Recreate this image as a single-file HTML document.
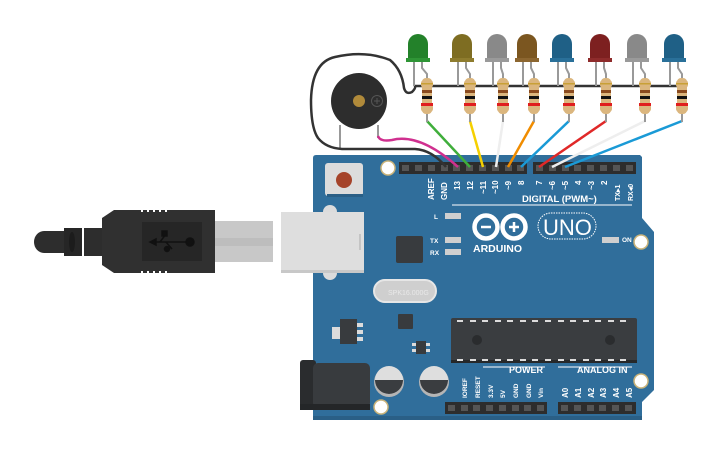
<!DOCTYPE html>
<html><head><meta charset="utf-8"><style>
html,body{margin:0;padding:0;background:#fff;}
svg{display:block;font-family:"Liberation Sans",sans-serif;}
</style></head><body>
<svg width="725" height="453" viewBox="0 0 725 453" xmlns="http://www.w3.org/2000/svg">
<!-- USB cable -->
<ellipse cx="44" cy="242" rx="10" ry="11" fill="#2d2d2d"/>
<rect x="44" y="231" width="36" height="22" fill="#2d2d2d"/>
<rect x="64" y="228" width="18" height="28" fill="#262626"/>
<ellipse cx="72" cy="242" rx="3" ry="10" fill="#1c1c1c"/>
<ellipse cx="92" cy="242" rx="3" ry="10" fill="#1c1c1c"/>
<rect x="84" y="228" width="20" height="28" fill="#2d2d2d"/>
<path d="M102 218 L114 210 L215 210 L215 273 L114 273 L102 265 Z" fill="#303030"/>
<g fill="#fff"><rect x="141" y="209" width="2" height="3"/><rect x="147" y="209" width="2" height="3"/><rect x="153" y="209" width="2" height="3"/><rect x="159" y="209" width="2" height="3"/><rect x="165" y="209" width="2" height="3"/>
<rect x="141" y="271" width="2" height="3"/><rect x="147" y="271" width="2" height="3"/><rect x="153" y="271" width="2" height="3"/><rect x="159" y="271" width="2" height="3"/><rect x="165" y="271" width="2" height="3"/></g>
<rect x="142" y="222" width="60" height="39" fill="#262626"/>
<g stroke="#111" stroke-width="1.5" fill="#111">
<line x1="152" y1="242" x2="190" y2="242"/><polygon points="150,242 156,239 156,245"/>
<line x1="160" y1="242" x2="166" y2="234"/><rect x="162" y="231" width="5" height="5"/>
<line x1="166" y1="242" x2="172" y2="249"/><circle cx="167" cy="249" r="2.5"/>
<circle cx="190" cy="242" r="4"/></g>
<rect x="215" y="221" width="58" height="41" fill="#c8c8c8"/>
<rect x="215" y="238" width="58" height="8" fill="#bdbdbd"/>
<!-- Board -->
<path d="M316 155 L640 155 L642 157 L642 218 L654 232 L654 390 L642 402 L642 419 L316 419 Q313 419 313 416 L313 158 Q313 155 316 155 Z" fill="#306e9b"/>
<rect x="313" y="416" width="329" height="4" fill="#2a5f86"/>
<!-- USB port -->
<circle cx="330" cy="212" r="7" fill="#dcdcdc"/><circle cx="330" cy="273" r="7" fill="#dcdcdc"/>
<rect x="281" y="212" width="83" height="61" fill="#dedede"/>
<rect x="281" y="270" width="83" height="3" fill="#c8c8c8"/>
<line x1="360" y1="234" x2="360" y2="250" stroke="#aaa"/>
<!-- reset -->
<rect x="325" y="163" width="38" height="33" rx="3" fill="#dcdcdc"/>
<rect x="327" y="194" width="36" height="3" fill="#2a5f86"/>
<circle cx="344" cy="180" r="8" fill="#a5432a"/>
<!-- holes -->
<g fill="#fff" stroke="#c9b37a" stroke-width="1.5">
<circle cx="388" cy="168" r="7"/><circle cx="641" cy="242" r="7"/><circle cx="641" cy="381" r="7"/><circle cx="381" cy="407" r="7"/></g>
<!-- top headers -->
<rect x="399" y="162" width="128" height="12" fill="#2d2d2d"/>
<rect x="533" y="162" width="103" height="12" fill="#2d2d2d"/>
<g fill="#555">
<rect x="402" y="165" width="7" height="6"/><rect x="415" y="165" width="7" height="6"/><rect x="428" y="165" width="7" height="6"/><rect x="441" y="165" width="7" height="6"/><rect x="453" y="165" width="7" height="6"/><rect x="466" y="165" width="7" height="6"/><rect x="479" y="165" width="7" height="6"/><rect x="492" y="165" width="7" height="6"/><rect x="505" y="165" width="7" height="6"/><rect x="517" y="165" width="7" height="6"/>
<rect x="536" y="165" width="7" height="6"/><rect x="549" y="165" width="7" height="6"/><rect x="562" y="165" width="7" height="6"/><rect x="574" y="165" width="7" height="6"/><rect x="587" y="165" width="7" height="6"/><rect x="600" y="165" width="7" height="6"/><rect x="613" y="165" width="7" height="6"/><rect x="626" y="165" width="7" height="6"/></g>
<g fill="#fff" font-size="8" font-weight="bold">
<text transform="translate(434,200) rotate(-90)">AREF</text>
<text transform="translate(447,200) rotate(-90)">GND</text>
<text transform="translate(460,190) rotate(-90)">13</text>
<text transform="translate(473,190) rotate(-90)">12</text>
<text transform="translate(486,194) rotate(-90)">~11</text>
<text transform="translate(498,194) rotate(-90)">~10</text>
<text transform="translate(511,190) rotate(-90)">~9</text>
<text transform="translate(524,185) rotate(-90)">8</text>
<text transform="translate(542,185) rotate(-90)">7</text>
<text transform="translate(555,190) rotate(-90)">~6</text>
<text transform="translate(568,190) rotate(-90)">~5</text>
<text transform="translate(581,185) rotate(-90)">4</text>
<text transform="translate(594,190) rotate(-90)">~3</text>
<text transform="translate(607,185) rotate(-90)">2</text>
<text transform="translate(620,201) rotate(-90)" font-size="7">TX▸1</text>
<text transform="translate(633,201) rotate(-90)" font-size="7">RX◂0</text>
<text x="522" y="202" font-size="9.5">DIGITAL (PWM~)</text>
<text x="434" y="219" font-size="6.5">L</text>
<text x="430" y="243" font-size="6.5">TX</text>
<text x="430" y="255" font-size="6.5">RX</text>
<text x="622" y="242" font-size="6.5">ON</text>
<text x="473" y="252" font-size="10.5">ARDUINO</text>
<text x="509" y="373" font-size="9">POWER</text>
<text x="577" y="373" font-size="9">ANALOG IN</text>
</g>
<line x1="452" y1="205" x2="632" y2="205" stroke="#fff" stroke-width="1"/>
<g fill="#cfcfcf"><rect x="445" y="213" width="16" height="6"/><rect x="445" y="237" width="16" height="6"/><rect x="445" y="249" width="16" height="6"/><rect x="602" y="237" width="17" height="6"/></g>
<!-- logo -->
<g fill="none" stroke="#fff" stroke-width="4.5"><circle cx="486" cy="227" r="11.5"/><circle cx="514" cy="227" r="11.5"/></g>
<g stroke="#fff" stroke-width="2.5"><line x1="481" y1="227" x2="491" y2="227"/><line x1="509" y1="227" x2="519" y2="227"/><line x1="514" y1="222" x2="514" y2="232"/></g>
<rect x="538" y="213" width="58" height="26" rx="13" fill="none" stroke="#fff" stroke-width="1" stroke-dasharray="1.5 1"/>
<text x="543" y="235" font-size="22" fill="#fff">UNO</text>
<!-- components -->
<rect x="396" y="236" width="27" height="27" rx="2" fill="#383b3e"/>
<rect x="374" y="280" width="62" height="22" rx="11" fill="#cfcfcf" stroke="#e6e6e6" stroke-width="2"/>
<text x="388" y="295" font-size="7" fill="#e8e8e8">SPK16.000G</text>
<rect x="398" y="314" width="15" height="15" rx="1" fill="#383b3e"/>
<rect x="332" y="327" width="10" height="12" fill="#dcdcdc"/>
<rect x="340" y="319" width="17" height="25" fill="#383b3e"/>
<g fill="#dcdcdc"><rect x="357" y="323" width="6" height="4"/><rect x="357" y="330" width="6" height="4"/><rect x="357" y="337" width="6" height="4"/></g>
<rect x="416" y="341" width="10" height="13" fill="#383b3e"/>
<g fill="#dcdcdc"><rect x="412" y="343" width="4" height="3"/><rect x="412" y="349" width="4" height="3"/><rect x="426" y="343" width="4" height="3"/><rect x="426" y="349" width="4" height="3"/></g>
<rect x="451" y="318" width="186" height="45" rx="2" fill="#3a3d40"/>
<rect x="451" y="360" width="186" height="3" fill="#262829"/>
<g fill="#dcdcdc">
<rect x="457" y="320" width="6" height="2"/><rect x="470" y="320" width="6" height="2"/><rect x="482" y="320" width="6" height="2"/><rect x="495" y="320" width="6" height="2"/><rect x="507" y="320" width="6" height="2"/><rect x="520" y="320" width="6" height="2"/><rect x="532" y="320" width="6" height="2"/><rect x="545" y="320" width="6" height="2"/><rect x="558" y="320" width="6" height="2"/><rect x="570" y="320" width="6" height="2"/><rect x="583" y="320" width="6" height="2"/><rect x="595" y="320" width="6" height="2"/><rect x="608" y="320" width="6" height="2"/><rect x="620" y="320" width="6" height="2"/>
<rect x="457" y="359" width="6" height="2"/><rect x="470" y="359" width="6" height="2"/><rect x="482" y="359" width="6" height="2"/><rect x="495" y="359" width="6" height="2"/><rect x="507" y="359" width="6" height="2"/><rect x="520" y="359" width="6" height="2"/><rect x="532" y="359" width="6" height="2"/><rect x="545" y="359" width="6" height="2"/><rect x="558" y="359" width="6" height="2"/><rect x="570" y="359" width="6" height="2"/><rect x="583" y="359" width="6" height="2"/><rect x="595" y="359" width="6" height="2"/><rect x="608" y="359" width="6" height="2"/><rect x="620" y="359" width="6" height="2"/></g>
<circle cx="477" cy="340" r="5" fill="#2a2c2e"/><circle cx="610" cy="340" r="5" fill="#2a2c2e"/>
<!-- power jack -->
<rect x="300" y="360" width="16" height="48" rx="3" fill="#2a2c2e"/>
<rect x="313" y="363" width="57" height="45" rx="5" fill="#383b3e"/>
<rect x="300" y="404" width="70" height="6" fill="#242628"/>
<!-- capacitors -->
<g><circle cx="389" cy="382" r="15" fill="#b5b5b5"/><circle cx="389" cy="380" r="14" fill="#dedede"/><path d="M375 380 H403 A14 14 0 0 1 375 380 Z" fill="#3a3d40"/>
<circle cx="434" cy="382" r="15" fill="#b5b5b5"/><circle cx="434" cy="380" r="14" fill="#dedede"/><path d="M420 380 H448 A14 14 0 0 1 420 380 Z" fill="#3a3d40"/></g>
<g stroke="#fff" stroke-width="1"><line x1="483" y1="367" x2="545" y2="367"/><line x1="558" y1="367" x2="632" y2="367"/></g>
<!-- bottom headers -->
<rect x="445" y="402" width="102" height="12" fill="#2d2d2d"/>
<rect x="558" y="402" width="78" height="12" fill="#2d2d2d"/>
<g fill="#555">
<rect x="448" y="405" width="7" height="6"/><rect x="461" y="405" width="7" height="6"/><rect x="473" y="405" width="7" height="6"/><rect x="486" y="405" width="7" height="6"/><rect x="499" y="405" width="7" height="6"/><rect x="512" y="405" width="7" height="6"/><rect x="524" y="405" width="7" height="6"/><rect x="537" y="405" width="7" height="6"/>
<rect x="561" y="405" width="7" height="6"/><rect x="574" y="405" width="7" height="6"/><rect x="587" y="405" width="7" height="6"/><rect x="599" y="405" width="7" height="6"/><rect x="612" y="405" width="7" height="6"/><rect x="625" y="405" width="7" height="6"/></g>
<g fill="#fff" font-size="6.5" font-weight="bold">
<text transform="translate(467,398) rotate(-90)">IOREF</text>
<text transform="translate(480,398) rotate(-90)">RESET</text>
<text transform="translate(493,398) rotate(-90)">3.3V</text>
<text transform="translate(505,398) rotate(-90)">5V</text>
<text transform="translate(518,398) rotate(-90)">GND</text>
<text transform="translate(531,398) rotate(-90)">GND</text>
<text transform="translate(543,398) rotate(-90)">Vin</text>
<g font-size="8"><text transform="translate(568,398) rotate(-90)">A0</text><text transform="translate(581,398) rotate(-90)">A1</text><text transform="translate(594,398) rotate(-90)">A2</text><text transform="translate(606,398) rotate(-90)">A3</text><text transform="translate(619,398) rotate(-90)">A4</text><text transform="translate(632,398) rotate(-90)">A5</text></g>
</g>
<!-- buzzer -->
<circle cx="359" cy="101" r="28" fill="#2d2d2d"/>
<circle cx="359" cy="101" r="6" fill="#b08a3a"/>
<circle cx="377" cy="101" r="5.5" fill="none" stroke="#555" stroke-width="1"/>
<path d="M374 101h6M377 98v6" stroke="#555" stroke-width="1"/>
<line x1="340" y1="125" x2="340" y2="148" stroke="#999" stroke-width="2"/>
<line x1="378" y1="125" x2="378" y2="138" stroke="#999" stroke-width="2"/>
<!-- black wire -->
<path d="M446 167 Q432 150 415 149 L342 149 Q326 148 318 138 Q311 128 311 100 Q312 62 335 57 Q365 50 390 60 Q402 70 404 88 Q406 95 412 92 Q416 88 415 86 L680 86" fill="none" stroke="#333" stroke-width="2.5"/>
<path d="M378 136 Q380 142 392 140 Q420 133 458 167" fill="none" stroke="#d0308f" stroke-width="2.5"/>
<!-- LEDs -->
<g stroke="#999" stroke-width="2" fill="none">
<path d="M414 60V86M422 60V68L427 74V80"/>
<path d="M458 60V86M466 60V68L470 74V80"/>
<path d="M493 60V86M501 60V68L503 74V80"/>
<path d="M523 60V86M531 60V68L534 74V80"/>
<path d="M558 60V86M566 60V68L569 74V80"/>
<path d="M596 60V86M604 60V68L606 74V80"/>
<path d="M633 60V86M641 60V68L645 74V80"/>
<path d="M670 60V86M678 60V68L682 74V80"/>
</g>
<g>
<path d="M408 62V44a10 10 0 0 1 20 0V62Z" fill="#23812a"/><rect x="406" y="58" width="24" height="4" fill="#2f9536"/>
<path d="M452 62V44a10 10 0 0 1 20 0V62Z" fill="#7e6d22"/><rect x="450" y="58" width="24" height="4" fill="#8e7c2e"/>
<path d="M487 62V44a10 10 0 0 1 20 0V62Z" fill="#898989"/><rect x="485" y="58" width="24" height="4" fill="#9a9a9a"/>
<path d="M517 62V44a10 10 0 0 1 20 0V62Z" fill="#7b5620"/><rect x="515" y="58" width="24" height="4" fill="#8c6630"/>
<path d="M552 62V44a10 10 0 0 1 20 0V62Z" fill="#1f6086"/><rect x="550" y="58" width="24" height="4" fill="#2a7099"/>
<path d="M590 62V44a10 10 0 0 1 20 0V62Z" fill="#7d2020"/><rect x="588" y="58" width="24" height="4" fill="#8e2b2b"/>
<path d="M627 62V44a10 10 0 0 1 20 0V62Z" fill="#898989"/><rect x="625" y="58" width="24" height="4" fill="#9a9a9a"/>
<path d="M664 62V44a10 10 0 0 1 20 0V62Z" fill="#1f6086"/><rect x="662" y="58" width="24" height="4" fill="#2a7099"/>
</g>
<!-- colored wires -->
<g stroke-width="2.5" fill="none">
<line x1="427" y1="121" x2="470" y2="167" stroke="#3fae3b"/>
<line x1="470" y1="121" x2="483" y2="167" stroke="#f5d000"/>
<line x1="503" y1="121" x2="496" y2="167" stroke="#eee"/>
<line x1="534" y1="121" x2="508" y2="167" stroke="#f08c00"/>
<line x1="569" y1="121" x2="521" y2="167" stroke="#1a9ad6"/>
<line x1="606" y1="121" x2="539" y2="167" stroke="#e02828"/>
<line x1="645" y1="121" x2="552" y2="167" stroke="#eee"/>
<line x1="682" y1="121" x2="565" y2="167" stroke="#1a9ad6"/>
</g>
<!-- resistors -->
<g stroke="#999" stroke-width="2">
<line x1="427" y1="112" x2="427" y2="122"/><line x1="470" y1="112" x2="470" y2="122"/><line x1="503" y1="112" x2="503" y2="122"/><line x1="534" y1="112" x2="534" y2="122"/><line x1="569" y1="112" x2="569" y2="122"/><line x1="606" y1="112" x2="606" y2="122"/><line x1="645" y1="112" x2="645" y2="122"/><line x1="682" y1="112" x2="682" y2="122"/></g>
<defs><g id="r">
<rect x="-5" y="78" width="10" height="36" rx="4" fill="#dbb67e"/>
<rect x="-6" y="80" width="12" height="8" rx="3" fill="#dbb67e"/>
<rect x="-6" y="104" width="12" height="8" rx="3" fill="#dbb67e"/>
<rect x="-6" y="83" width="12" height="1.5" fill="#c8a036"/>
<rect x="-5" y="90" width="10" height="3" fill="#8a4a1e"/>
<rect x="-5" y="96" width="10" height="3" fill="#111"/>
<rect x="-6" y="103" width="12" height="3" fill="#e01e1e"/>
</g></defs>
<use href="#r" x="427"/><use href="#r" x="470"/><use href="#r" x="503"/><use href="#r" x="534"/><use href="#r" x="569"/><use href="#r" x="606"/><use href="#r" x="645"/><use href="#r" x="682"/>
</svg>
</body></html>
